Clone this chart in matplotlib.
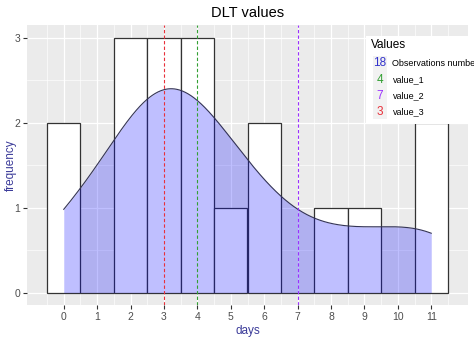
import numpy as np
import matplotlib
matplotlib.use("Agg")
import matplotlib.pyplot as plt
from matplotlib.patches import Rectangle

# ---- data ----
days = [0, 1, 2, 3, 4, 5, 6, 7, 8, 9, 10, 11]
counts = [2, 0, 3, 3, 3, 1, 2, 0, 1, 1, 0, 2]
ref_names = ["value_1", "value_2", "value_3"]
ref_values = [4, 7, 3]
ref_colors = ["#33A033", "#9B30FF", "#E8303A"]
n_obs = 18
title = "DLT values"

plt.rcParams['font.family'] = ['Liberation Sans', 'DejaVu Sans']

obs = np.repeat(days, counts).astype(float)

# KDE (gaussian, bw.nrd0) scaled to counts
def bw_nrd0(x):
    sd = np.std(x, ddof=1)
    q1, q3 = np.percentile(x, [25, 75])
    lo = min(sd, (q3 - q1) / 1.34)
    return 0.9 * lo * len(x) ** (-0.2)

bw = bw_nrd0(obs)
xs = np.linspace(obs.min(), obs.max(), 512)
dens = np.exp(-0.5 * ((xs[:, None] - obs[None, :]) / bw) ** 2).sum(axis=1) / (len(obs) * bw * np.sqrt(2 * np.pi))
dens_count = dens * len(obs) * 1.0

fig = plt.figure(figsize=(4.74, 3.38), dpi=100)
ax = fig.add_axes([27/474, 1-305.4/338, (468-27)/474, (305.4-25)/338])
ax.set_facecolor('#EBEBEB')
for s in ax.spines.values():
    s.set_visible(False)

ax.set_xlim(-1.1, 12.1)
ax.set_ylim(-0.15, 3.15)
ax.set_xticks(days)
ax.set_yticks([0, 1, 2, 3])
ax.set_xticks(np.arange(-0.5, 12, 1), minor=True)
ax.set_yticks([0.5, 1.5, 2.5], minor=True)
ax.grid(True, which='major', color='white', lw=0.9)
ax.grid(True, which='minor', color='white', lw=0.45)
ax.set_axisbelow(True)
ax.tick_params(which='major', length=3, width=0.8, color='#333333',
               labelsize=7.5, labelcolor='#4D4D4D', pad=2)
ax.tick_params(which='minor', length=0)

ax.bar(days, counts, width=1.0, color='white', edgecolor='#333333', lw=0.9, zorder=2)
ax.fill_between(xs, 0, dens_count, color='blue', alpha=0.25, lw=0, zorder=3)
ax.plot(xs, dens_count, color='#333355', lw=0.8, zorder=4)

for v, c in zip(ref_values, ref_colors):
    ax.axvline(v, color=c, lw=0.8, ls=(0, (3, 2)), zorder=5)

ax.set_title(title, fontsize=10.5, pad=6)
ax.set_xlabel("days", color='#3B3B99', fontsize=8.5, labelpad=2)
ax.set_ylabel("frequency", color='#3B3B99', fontsize=8.5)
ax.yaxis.set_label_coords((17 - 27) / 441, 0.5)

# legend (manual, in pixel coords)
W, H = 474, 338
def fx(px): return px / W
def fy(py): return 1 - py / H
fig.patches.append(Rectangle((fx(366), fy(124.5)), fx(474) - fx(366), fy(36) - fy(124.5),
                             transform=fig.transFigure, facecolor='white', edgecolor='none', zorder=10))
fig.patches.append(Rectangle((fx(373), fy(119)), fx(387) - fx(373), fy(56) - fy(119),
                             transform=fig.transFigure, facecolor='#F2F2F2', edgecolor='none', zorder=11))
fig.text(fx(371), fy(45), "Values", fontsize=8.5, va='center', ha='left', zorder=12)
keys = [str(n_obs)] + [str(v) for v in ref_values]
labels = ["Observations number"] + ref_names
kcolors = ["#3333CC"] + ref_colors
ys = [63.5, 80, 95.5, 111.5]
for k, lab, c, yy in zip(keys, labels, kcolors, ys):
    fig.text(fx(380), fy(yy), k, color=c, fontsize=8.5, ha='center', va='center', zorder=12)
    fig.text(fx(392.5), fy(yy), lab, color='black', fontsize=6.5, ha='left', va='center', zorder=12)

fig.savefig("out.png", dpi=100)
